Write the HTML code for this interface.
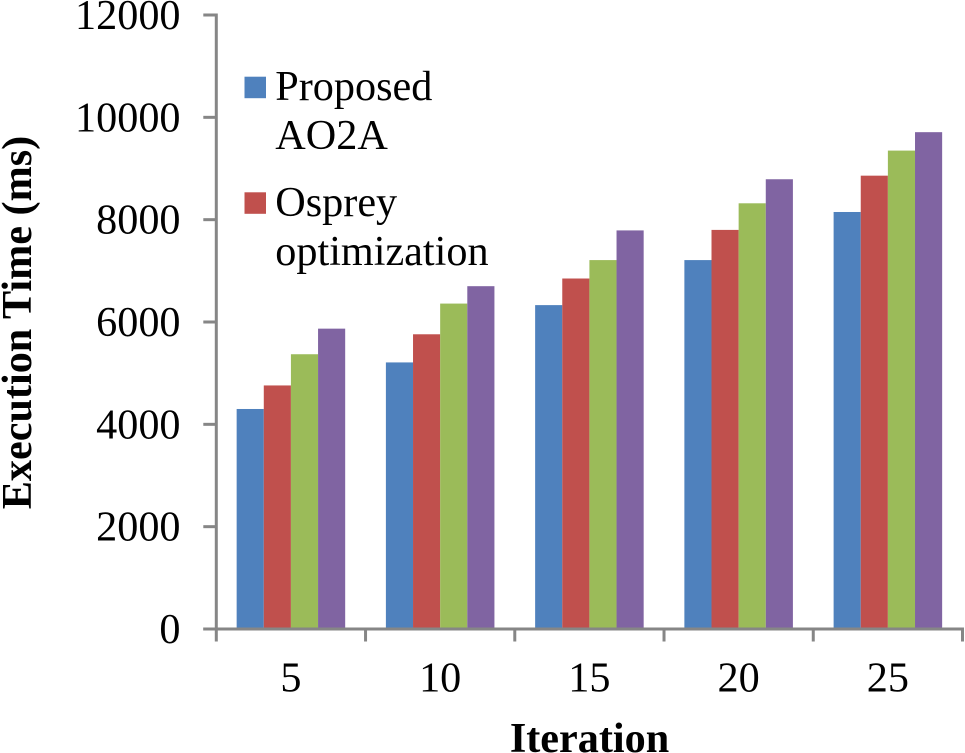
<!DOCTYPE html>
<html lang="en">
<head>
<meta charset="utf-8">
<title>Execution Time vs Iteration</title>
<style>
html,body{margin:0;padding:0;background:#fff;}
svg{display:block;font-family:"Liberation Serif",serif;}
text{fill:#000;font-size:42.2px;}
</style>
</head>
<body>
<svg id="chart" xmlns="http://www.w3.org/2000/svg" width="965" height="753" viewBox="0 0 965 753">
  <rect x="0" y="0" width="965" height="753" fill="#fff"/>
  <g id="bars"></g>
  <g id="axes"></g>
  <text transform="translate(31,322.5) rotate(-90)" text-anchor="middle" font-weight="bold">Execution Time (ms)</text>
  <text x="589.5" y="752" text-anchor="middle" font-weight="bold">Iteration</text>
  <g>
    <rect x="244.5" y="76.7" width="21.5" height="21.5" fill="#4F81BD"/>
    <text x="275.3" y="100">Proposed</text>
    <text x="275.3" y="149">AO2A</text>
    <rect x="244.5" y="192.3" width="21.5" height="21.5" fill="#C0504D"/>
    <text x="275.3" y="216">Osprey</text>
    <text x="275.3" y="265">optimization</text>
  </g>
</svg>
<script>
const categories = ["5", "10", "15", "20", "25"];
const seriesProposed = [4300, 5210, 6330, 7210, 8150];
const seriesOsprey = [4760, 5760, 6850, 7800, 8860];
const seriesThird = [5370, 6360, 7210, 8320, 9350];
const seriesFourth = [5870, 6700, 7790, 8790, 9710];
const yTickLabels = [0, 2000, 4000, 6000, 8000, 10000, 12000];

const NS = "http://www.w3.org/2000/svg";
const plot = {left: 216.3, right: 962.5, top: 15, bottom: 629};
const yMax = 12000;
const colors = ["#4F81BD", "#C0504D", "#9BBB59", "#8064A2"];
const allSeries = [seriesProposed, seriesOsprey, seriesThird, seriesFourth];
const axisColor = "#868686";
const axisWidth = 3;

function yScale(v) {
  return plot.bottom - (v / yMax) * (plot.bottom - plot.top);
}
function bandWidth() {
  return (plot.right - plot.left) / categories.length;
}
function xBand(i) {
  return plot.left + i * bandWidth();
}
function make(tag, attrs) {
  const el = document.createElementNS(NS, tag);
  for (const k in attrs) el.setAttribute(k, attrs[k]);
  return el;
}

const barsGroup = document.getElementById("bars");
const axesGroup = document.getElementById("axes");
const barWidth = bandWidth() / (allSeries.length + 1.5);

allSeries.forEach(function (values, s) {
  values.forEach(function (v, i) {
    const x = xBand(i) + 0.75 * barWidth + s * barWidth;
    const bar = make("rect", {x: x, y: yScale(v), width: barWidth, height: plot.bottom - yScale(v), fill: colors[s]});
    
    
    barsGroup.appendChild(bar);
  });
});

const yAxisLine = make("line", {x1: plot.left, y1: plot.top - 1.5, x2: plot.left, y2: plot.bottom + 12.5, stroke: axisColor, "stroke-width": axisWidth});


axesGroup.appendChild(yAxisLine);

const xAxisLine = make("line", {x1: plot.left - 13, y1: plot.bottom, x2: plot.right + 1.5, y2: plot.bottom, stroke: axisColor, "stroke-width": axisWidth});


axesGroup.appendChild(xAxisLine);

yTickLabels.forEach(function (v) {
  const y = yScale(v);
  const tick = make("line", {x1: plot.left - 13, y1: y, x2: plot.left, y2: y, stroke: axisColor, "stroke-width": axisWidth});
  
  
  axesGroup.appendChild(tick);
  const label = make("text", {x: 180.5, y: y + 14, "text-anchor": "end"});
  
  
  label.textContent = String(v);
  axesGroup.appendChild(label);
});

categories.forEach(function (c, i) {
  const tx = xBand(i + 1);
  const tick = make("line", {x1: tx, y1: plot.bottom, x2: tx, y2: plot.bottom + 12.5, stroke: axisColor, "stroke-width": axisWidth});
  
  
  axesGroup.appendChild(tick);
  const label = make("text", {x: xBand(i) + bandWidth() / 2, y: 691.5, "text-anchor": "middle"});
  
  
  label.textContent = c;
  axesGroup.appendChild(label);
});
</script>
</body>
</html>
